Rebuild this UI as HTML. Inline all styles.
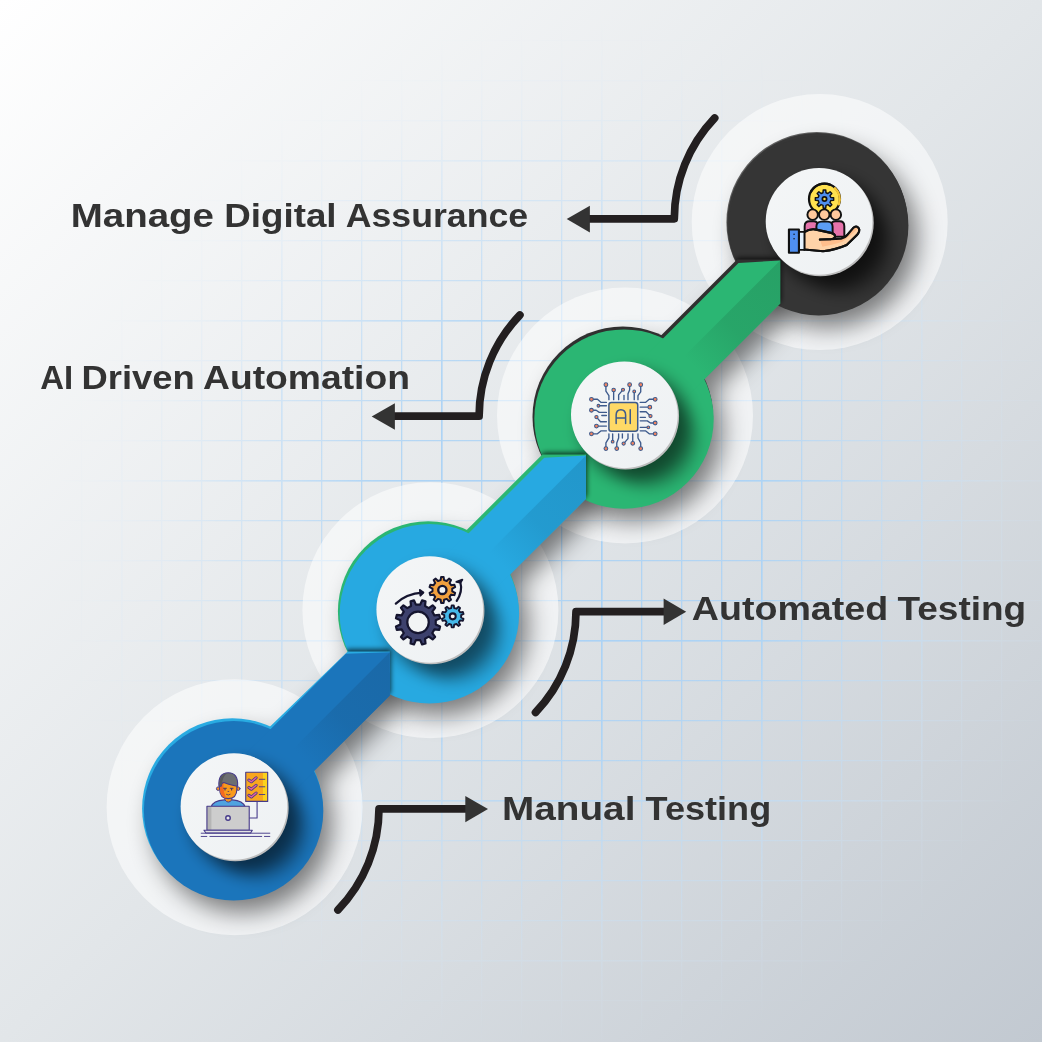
<!DOCTYPE html>
<html><head><meta charset="utf-8"><title>Testing Roadmap</title>
<style>
html,body{margin:0;padding:0;background:#fff;}
body{width:1042px;height:1042px;overflow:hidden;font-family:"Liberation Sans",sans-serif;}
svg{display:block;}
text{font-family:"Liberation Sans",sans-serif;font-weight:bold;fill:#333333;}
</style></head><body>
<svg width="1042" height="1042" viewBox="0 0 1042 1042">
<defs>
<linearGradient id="bg" x1="0" y1="0" x2="1" y2="1">
<stop offset="0" stop-color="#ffffff"/><stop offset="0.5" stop-color="#e2e6e9"/><stop offset="1" stop-color="#c2c9d1"/>
</linearGradient>
<pattern id="gminor" x="1" y="0" width="40" height="40" patternUnits="userSpaceOnUse">
<path d="M0.5 0V40M0 0.5H40" stroke="#fff" stroke-width="1.6" fill="none" opacity="0.88"/>
</pattern>
<pattern id="gmajor" x="121" y="0" width="160" height="160" patternUnits="userSpaceOnUse">
<path d="M0.5 0V160M0 0.5H160" stroke="#fff" stroke-width="2.0" fill="none" opacity="1"/>
</pattern>
<radialGradient id="gfade" cx="575" cy="540" r="525" gradientUnits="userSpaceOnUse">
<stop offset="0" stop-color="#fff" stop-opacity="1"/><stop offset="0.38" stop-color="#fff" stop-opacity="1"/><stop offset="0.66" stop-color="#fff" stop-opacity="0.55"/><stop offset="0.85" stop-color="#fff" stop-opacity="0.16"/><stop offset="0.95" stop-color="#fff" stop-opacity="0.05"/><stop offset="1" stop-color="#fff" stop-opacity="0"/>
</radialGradient>
<mask id="fade"><rect width="1042" height="1042" fill="url(#gfade)"/></mask>
<mask id="gmask"><g mask="url(#fade)"><rect width="1042" height="1042" fill="url(#gminor)"/><rect width="1042" height="1042" fill="url(#gmajor)"/></g></mask>
<radialGradient id="gcol" cx="575" cy="540" r="525" gradientUnits="userSpaceOnUse">
<stop offset="0" stop-color="#a9d1f5"/><stop offset="0.4" stop-color="#aed4f5"/><stop offset="0.7" stop-color="#c4e0f9"/><stop offset="1" stop-color="#e0f0ff"/>
</radialGradient>
<filter id="sh" x="-30%" y="-30%" width="160%" height="160%">
<feGaussianBlur in="SourceAlpha" stdDeviation="12"/>
<feOffset dx="9" dy="12" result="b"/>
<feComponentTransfer><feFuncA type="linear" slope="0.5"/></feComponentTransfer>
</filter>
<filter id="blur6" x="-50%" y="-50%" width="200%" height="200%"><feGaussianBlur stdDeviation="8"/></filter>
<filter id="blur3" x="-50%" y="-50%" width="200%" height="200%"><feGaussianBlur stdDeviation="2.6"/></filter>
<filter id="blur2" x="-50%" y="-50%" width="200%" height="200%"><feGaussianBlur stdDeviation="2"/></filter>
<linearGradient id="long" x1="0" y1="0" x2="1" y2="0">
<stop offset="0" stop-color="#000" stop-opacity="0.6"/><stop offset="0.45" stop-color="#000" stop-opacity="0.45"/><stop offset="1" stop-color="#000" stop-opacity="0"/>
</linearGradient>
<linearGradient id="wfill" x1="0" y1="0" x2="1" y2="1">
<stop offset="0" stop-color="#f4f6f7"/><stop offset="1" stop-color="#eef1f3"/>
</linearGradient>

<clipPath id="rc0"><circle cx="233.6" cy="810.8000000000001" r="89.7"/></clipPath>
<clipPath id="rc1"><circle cx="429.4" cy="613.8000000000001" r="89.7"/></clipPath>
<clipPath id="rc2"><circle cx="624.0" cy="419.1" r="89.7"/></clipPath>
<clipPath id="rc3"><circle cx="818.7" cy="225.7" r="89.7"/></clipPath>
</defs>
<rect width="1042" height="1042" fill="url(#bg)"/>
<rect width="1042" height="1042" fill="url(#gcol)" mask="url(#gmask)"/>
<circle cx="234.6" cy="807.2" r="128.0" fill="#ffffff" fill-opacity="0.55"/>
<circle cx="430.4" cy="610.2" r="128.0" fill="#ffffff" fill-opacity="0.55"/>
<circle cx="625.0" cy="415.5" r="128.0" fill="#ffffff" fill-opacity="0.55"/>
<circle cx="819.7" cy="222.1" r="128.0" fill="#ffffff" fill-opacity="0.55"/>
<g filter="url(#sh)" fill="#000"><circle cx="818.7" cy="225.7" r="89.7"/></g>
<g filter="url(#sh)" fill="#000"><circle cx="624.0" cy="419.1" r="89.7"/><polygon points="625.0,376.6 738.5,263.1 780.2,260.4 780.2,303.6 645.0,438.8 625.0,458.8"/></g>
<g filter="url(#sh)" fill="#000"><circle cx="429.4" cy="613.8000000000001" r="89.7"/><polygon points="430.4,571.5 544.2,457.7 586.0,455.4 586.0,498.8 450.4,634.4 430.4,654.4"/></g>
<g filter="url(#sh)" fill="#000"><circle cx="233.6" cy="810.8000000000001" r="89.7"/><polygon points="234.6,765.1 345.9,653.8 389.8,652.3 389.8,695.4 254.6,830.6 234.6,850.6"/></g>
<circle cx="816.8000000000001" cy="222.39999999999998" r="90.4" fill="#5e5e5e"/>
<circle cx="817.5" cy="223.39999999999998" r="90.3" fill="#363636"/>
<circle cx="818.7" cy="225.7" r="89.7" fill="#353535"/>
<g clip-path="url(#rc3)"><g filter="url(#blur3)"><polygon points="707.2,290.4 737.2,260.4 780.2,260.4 780.2,303.4 750.2,333.4" fill="#000" fill-opacity="0.7" transform="translate(1.0,-3.0)"/></g></g>
<g clip-path="url(#rc3)"><g filter="url(#blur6)"><circle cx="829.7" cy="232.1" r="55.0" fill="#000" fill-opacity="0.55"/><circle cx="843.7" cy="246.1" r="48.0" fill="#000" fill-opacity="0.33"/></g></g>
<circle cx="820.35" cy="222.79999999999998" r="53.4" fill="#bdbdbd"/>
<circle cx="819.0500000000001" cy="221.4" r="53.35" fill="url(#wfill)"/>
<circle cx="622.8" cy="416.8" r="90.3" fill="#303030"/>
<polygon points="645.0,351.4 737.0,259.6 780.2,259.6 780.2,280.4 645.0,395.6" fill="#303030"/>
<circle cx="624.0" cy="419.1" r="89.7" fill="#2bb673"/>
<polygon points="625.0,376.6 738.5,263.1 780.2,260.4 780.2,303.6 645.0,438.8 625.0,458.8" fill="#2bb673"/>
<linearGradient id="lg2" gradientUnits="userSpaceOnUse" x1="780.2" y1="260.4" x2="684.0" y2="356.5999999999999"><stop offset="0" stop-color="#27a166" stop-opacity="1"/><stop offset="0.6" stop-color="#27a166" stop-opacity="0.8"/><stop offset="1" stop-color="#27a166" stop-opacity="0"/></linearGradient>
<polygon points="780.2,260.4 780.2,303.6 645.0,438.8 645.0,395.6" fill="url(#lg2)"/>
<g clip-path="url(#rc2)"><g filter="url(#blur3)"><polygon points="513.0,485.4 543.0,455.4 586.0,455.4 586.0,498.4 556.0,528.4" fill="#000" fill-opacity="0.7" transform="translate(1.0,-3.0)"/></g></g>
<g clip-path="url(#rc2)"><g filter="url(#blur6)"><circle cx="635.0" cy="425.5" r="55.0" fill="#000" fill-opacity="0.45"/><circle cx="649.0" cy="439.5" r="48.0" fill="#000" fill-opacity="0.27"/></g></g>
<circle cx="625.65" cy="416.2" r="53.4" fill="#bdbdbd"/>
<circle cx="624.35" cy="414.8" r="53.35" fill="url(#wfill)"/>
<circle cx="428.2" cy="611.5000000000001" r="90.3" fill="#2bb673"/>
<polygon points="450.4,546.3 542.3,454.6 586.0,454.6 586.0,475.4 450.4,590.9" fill="#2bb673"/>
<circle cx="429.4" cy="613.8000000000001" r="89.7" fill="#27a9e1"/>
<polygon points="430.4,571.5 544.2,457.7 586.0,455.4 586.0,498.8 450.4,634.4 430.4,654.4" fill="#27a9e1"/>
<linearGradient id="lg1" gradientUnits="userSpaceOnUse" x1="585.95" y1="455.4" x2="489.4" y2="551.9499999999999"><stop offset="0" stop-color="#2297cb" stop-opacity="1"/><stop offset="0.6" stop-color="#2297cb" stop-opacity="0.8"/><stop offset="1" stop-color="#2297cb" stop-opacity="0"/></linearGradient>
<polygon points="586.0,455.4 586.0,498.8 450.4,634.4 450.4,590.9" fill="url(#lg1)"/>
<g clip-path="url(#rc1)"><g filter="url(#blur3)"><polygon points="316.8,682.3 346.8,652.3 389.8,652.3 389.8,695.3 359.8,725.3" fill="#000" fill-opacity="0.7" transform="translate(1.0,-3.0)"/></g></g>
<g clip-path="url(#rc1)"><g filter="url(#blur6)"><circle cx="440.4" cy="620.2" r="55.0" fill="#000" fill-opacity="0.42"/><circle cx="454.4" cy="634.2" r="48.0" fill="#000" fill-opacity="0.252"/></g></g>
<circle cx="431.04999999999995" cy="610.9000000000001" r="53.4" fill="#bdbdbd"/>
<circle cx="429.75" cy="609.5" r="53.35" fill="url(#wfill)"/>
<circle cx="232.4" cy="808.5000000000001" r="90.3" fill="#29abe2"/>
<polygon points="254.6,741.5 347.7,651.5 389.8,651.5 389.8,672.3 254.6,787.5" fill="#29abe2"/>
<circle cx="233.6" cy="810.8000000000001" r="89.7" fill="#1b75bb"/>
<polygon points="234.6,765.1 345.9,653.8 389.8,652.3 389.8,695.4 254.6,830.6 234.6,850.6" fill="#1b75bb"/>
<linearGradient id="lg0" gradientUnits="userSpaceOnUse" x1="389.8" y1="652.3" x2="293.6" y2="748.4999999999999"><stop offset="0" stop-color="#1a69a8" stop-opacity="1"/><stop offset="0.6" stop-color="#1a69a8" stop-opacity="0.8"/><stop offset="1" stop-color="#1a69a8" stop-opacity="0"/></linearGradient>
<polygon points="389.8,652.3 389.8,695.4 254.6,830.6 254.6,787.5" fill="url(#lg0)"/>
<g clip-path="url(#rc0)"><g filter="url(#blur6)"><circle cx="244.6" cy="817.2" r="55.0" fill="#000" fill-opacity="0.46"/><circle cx="258.6" cy="831.2" r="48.0" fill="#000" fill-opacity="0.276"/></g></g>
<circle cx="235.25" cy="807.9000000000001" r="53.4" fill="#bdbdbd"/>
<circle cx="233.95" cy="806.5" r="53.35" fill="url(#wfill)"/>
<path d="M337.9,910 A146 146 0 0 0 379,808.8 L468,808.8" fill="none" stroke="#231f20" stroke-width="7.7" stroke-linecap="round" stroke-linejoin="round"/>
<polygon points="465.3,795.9 488,809 465.3,822.2" fill="#333333"/>
<path d="M535.5,712.5 A146 146 0 0 0 576,611.7 L666,611.7" fill="none" stroke="#231f20" stroke-width="7.7" stroke-linecap="round" stroke-linejoin="round"/>
<polygon points="663.6,598.4 686.2,611.7 663.6,624.9" fill="#333333"/>
<path d="M519.9,315 A146 146 0 0 0 479.1,416.2 L392,416.2" fill="none" stroke="#231f20" stroke-width="7.7" stroke-linecap="round" stroke-linejoin="round"/>
<polygon points="394.9,403.2 371.7,416.4 394.9,429.7" fill="#333333"/>
<path d="M714.7,118 A146 146 0 0 0 674.3,218.8 L587,218.8" fill="none" stroke="#231f20" stroke-width="7.7" stroke-linecap="round" stroke-linejoin="round"/>
<polygon points="589.9,205.7 566.7,219 589.9,232.4" fill="#333333"/>
<g opacity="0.995">
<text x="70.7" y="227.3" font-size="34" textLength="143.3" lengthAdjust="spacingAndGlyphs">Manage</text>
<text x="224.3" y="227.3" font-size="34" textLength="112.3" lengthAdjust="spacingAndGlyphs">Digital</text>
<text x="345.8" y="227.3" font-size="34" textLength="182.3" lengthAdjust="spacingAndGlyphs">Assurance</text>
<text x="40.3" y="389.0" font-size="34" textLength="32.9" lengthAdjust="spacingAndGlyphs">AI</text>
<text x="81.5" y="389.0" font-size="34" textLength="113.2" lengthAdjust="spacingAndGlyphs">Driven</text>
<text x="203.0" y="389.0" font-size="34" textLength="207.0" lengthAdjust="spacingAndGlyphs">Automation</text>
<text x="691.8" y="619.7" font-size="34" textLength="196.4" lengthAdjust="spacingAndGlyphs">Automated</text>
<text x="897.4" y="619.7" font-size="34" textLength="128.8" lengthAdjust="spacingAndGlyphs">Testing</text>
<text x="502.1" y="819.8" font-size="34" textLength="133.3" lengthAdjust="spacingAndGlyphs">Manual</text>
<text x="645.6" y="819.8" font-size="34" textLength="125.6" lengthAdjust="spacingAndGlyphs">Testing</text>
</g>
<g transform="translate(170,745) scale(0.12476)" stroke-linejoin="round" stroke-linecap="round">
<path d="M698,452V585H638" fill="none" stroke="#463a8a" stroke-width="8.8"/>
<rect x="607" y="218" width="176" height="234" fill="#f9a61f" stroke="none"/>
<rect x="745" y="218" width="38" height="234" fill="#fcd21c"/>
<rect x="607" y="218" width="176" height="234" fill="none" stroke="#463a8a" stroke-width="8.8"/>
<path d="M632,281 L652,295 L690,263" fill="none" stroke="#463a8a" stroke-width="23.8"/>
<path d="M632,281 L652,295 L690,263" fill="none" stroke="#e8609f" stroke-width="11.2"/>
<path d="M716,275H760" fill="none" stroke="#463a8a" stroke-width="7.5"/>
<path d="M632,341 L652,355 L690,323" fill="none" stroke="#463a8a" stroke-width="23.8"/>
<path d="M632,341 L652,355 L690,323" fill="none" stroke="#e8609f" stroke-width="11.2"/>
<path d="M716,335H760" fill="none" stroke="#463a8a" stroke-width="7.5"/>
<path d="M632,403 L652,417 L690,385" fill="none" stroke="#463a8a" stroke-width="23.8"/>
<path d="M632,403 L652,417 L690,385" fill="none" stroke="#e8609f" stroke-width="11.2"/>
<path d="M716,397H760" fill="none" stroke="#463a8a" stroke-width="7.5"/>
<path d="M330,495 Q345,448 435,440 L500,440 Q585,448 602,495 Z" fill="#4fa3e0" stroke="#463a8a" stroke-width="8.8"/>
<path d="M440,415 L440,440 Q467,475 495,440 L495,415 Z" fill="#f7941d" stroke="#463a8a" stroke-width="7.5"/>
<circle cx="386" cy="350" r="14" fill="#f7941d" stroke="#463a8a" stroke-width="7.5"/>
<circle cx="547" cy="350" r="14" fill="#f7941d" stroke="#463a8a" stroke-width="7.5"/>
<path d="M398,290 L398,355 Q398,428 467,430 Q536,428 536,355 L536,290 Z" fill="#f99b1c" stroke="#463a8a" stroke-width="8.8"/>
<path d="M401,290 L401,355 Q401,420 455,427 Q425,390 428,290 Z" fill="#f26a21"/>
<path d="M392,330 Q385,222 467,222 Q548,222 542,330 Q500,325 432,300 Q415,300 410,330 Z" fill="#6d6e71" stroke="#463a8a" stroke-width="8.8"/>
<path d="M397,325 Q392,232 460,227 Q420,250 415,325 Z" fill="#58595b"/>
<path d="M430,347H452M483,347H505" stroke="#3a2f6b" stroke-width="7.5" fill="none"/>
<path d="M441,352v8M494,352v8" stroke="#3a2f6b" stroke-width="8.8" fill="none"/>
<path d="M465,372h6" stroke="#3a2f6b" stroke-width="6.2" fill="none"/>
<path d="M452,396 Q467,408 482,396" stroke="#3a2f6b" stroke-width="6.2" fill="none"/>
<rect x="296" y="491" width="339" height="192" fill="#cdcdcd" stroke="none"/>
<rect x="296" y="491" width="36" height="192" fill="#b5b5b5"/>
<rect x="296" y="491" width="339" height="192" fill="none" stroke="#463a8a" stroke-width="8.8"/>
<circle cx="465" cy="585" r="18" fill="#e6e6e6" stroke="#463a8a" stroke-width="11.2"/>
<path d="M272,683 H660 L646,705 H288 Z" fill="#e3e3e3" stroke="#463a8a" stroke-width="8.8"/>
<path d="M250,707H800" stroke="#463a8a" stroke-width="7.5" fill="none"/>
<path d="M250,733H295M320,733H735M757,733H800" stroke="#463a8a" stroke-width="7.5" fill="none"/>
</g>
<g transform="translate(370,550) scale(0.12476)" stroke-linejoin="round" stroke-linecap="round">
<path d="M527.0,597.2 L562.0,612.8 L554.7,640.1 L516.5,636.1 L499.4,665.9 L521.9,696.9 L501.9,716.9 L470.9,694.4 L441.1,711.5 L445.1,749.7 L417.8,757.0 L402.2,722.0 L367.8,722.0 L352.2,757.0 L324.9,749.7 L328.9,711.5 L299.1,694.4 L268.1,716.9 L248.1,696.9 L270.6,665.9 L253.5,636.1 L215.3,640.1 L208.0,612.8 L243.0,597.2 L243.0,562.8 L208.0,547.2 L215.3,519.9 L253.5,523.9 L270.6,494.1 L248.1,463.1 L268.1,443.1 L299.1,465.6 L328.9,448.5 L324.9,410.3 L352.2,403.0 L367.8,438.0 L402.2,438.0 L417.8,403.0 L445.1,410.3 L441.1,448.5 L470.9,465.6 L501.9,443.1 L521.9,463.1 L499.4,494.1 L516.5,523.9 L554.7,519.9 L562.0,547.2 L527.0,562.8Z" fill="#3d416d" stroke="#15152f" stroke-width="17.6"/>
<circle cx="385" cy="580" r="86" fill="#f2f4f5" stroke="#15152f" stroke-width="17.6"/>
<path d="M594.0,398.8 L589.9,424.5 L570.1,424.5 L566.0,398.8 L545.0,392.0 L526.6,410.4 L510.6,398.8 L522.4,375.5 L509.4,357.7 L483.6,361.7 L477.5,342.9 L500.8,331.0 L500.8,309.0 L477.5,297.1 L483.6,278.3 L509.4,282.3 L522.4,264.5 L510.6,241.2 L526.6,229.6 L545.0,248.0 L566.0,241.2 L570.1,215.5 L589.9,215.5 L594.0,241.2 L615.0,248.0 L633.4,229.6 L649.4,241.2 L637.6,264.5 L650.6,282.3 L676.4,278.3 L682.5,297.1 L659.2,309.0 L659.2,331.0 L682.5,342.9 L676.4,361.7 L650.6,357.7 L637.6,375.5 L649.4,398.8 L633.4,410.4 L615.0,392.0Z" fill="#f2a03d" stroke="#15152f" stroke-width="16.2"/>
<circle cx="580" cy="320" r="33" fill="#f2f4f5" stroke="#15152f" stroke-width="18.9"/>
<path d="M674.9,599.0 L671.4,620.6 L654.6,620.6 L651.1,599.0 L633.3,593.2 L617.7,608.6 L604.1,598.8 L614.0,579.2 L603.0,564.0 L581.3,567.3 L576.1,551.4 L595.6,541.4 L595.6,522.6 L576.1,512.6 L581.3,496.7 L603.0,500.0 L614.0,484.8 L604.1,465.2 L617.7,455.4 L633.3,470.8 L651.1,465.0 L654.6,443.4 L671.4,443.4 L674.9,465.0 L692.7,470.8 L708.3,455.4 L721.9,465.2 L712.0,484.8 L723.0,500.0 L744.7,496.7 L749.9,512.6 L730.4,522.6 L730.4,541.4 L749.9,551.4 L744.7,567.3 L723.0,564.0 L712.0,579.2 L721.9,598.8 L708.3,608.6 L692.7,593.2Z" fill="#45b9ea" stroke="#15152f" stroke-width="14.9"/>
<circle cx="663" cy="532" r="24" fill="#f2f4f5" stroke="#15152f" stroke-width="16.2"/>
<path d="M207,430 Q290,350 422,342" fill="none" stroke="#15152f" stroke-width="17.6"/>
<path d="M400,320 L428,341 L404,366 Z" fill="#15152f" stroke="#15152f" stroke-width="15"/>
<path d="M695,408 Q745,330 724,258" fill="none" stroke="#15152f" stroke-width="17.6"/>
<path d="M692,256 L740,238 L724,262 Z" fill="#15152f" stroke="#15152f" stroke-width="15"/>
</g>
<g transform="translate(560,350) scale(0.12476)" stroke-linejoin="round" stroke-linecap="round" fill="none" stroke="#3d5a8c" stroke-width="10.8">
<path d="M368,278V330L392,365V398"/>
<path d="M430,320V398"/>
<path d="M505,318L470,360V398"/>
<path d="M513,365V398"/>
<path d="M558,278V320L545,350V398"/>
<path d="M595,332V398"/>
<path d="M647,278V335L625,365V398"/>
<path d="M368,790V745L392,705V672"/>
<path d="M422,735V672"/>
<path d="M455,790V745L470,705V672"/>
<path d="M500,672V705"/>
<path d="M510,750L545,710V672"/>
<path d="M583,748V672"/>
<path d="M647,790V745L625,705V672"/>
<path d="M252,395H300L330,420H372"/>
<path d="M308,447H372"/>
<path d="M252,483H290L315,500H372"/>
<path d="M335,525H372"/>
<path d="M292,538L325,575H372"/>
<path d="M292,610H372"/>
<path d="M252,672H300L330,648H372"/>
<path d="M763,395H715L685,420H643"/>
<path d="M720,458H643"/>
<path d="M725,530L690,495H643"/>
<path d="M643,540H685"/>
<path d="M763,585H725L700,568H643"/>
<path d="M708,620H643"/>
<path d="M763,672H715L685,648H643"/>
<circle cx="368" cy="278" r="15" fill="#f4845f" stroke-width="8.4"/>
<circle cx="430" cy="320" r="14" fill="#f4845f" stroke-width="8.4"/>
<circle cx="505" cy="318" r="12" fill="#f4845f" stroke-width="8.4"/>
<circle cx="558" cy="278" r="15" fill="#f4845f" stroke-width="8.4"/>
<circle cx="595" cy="332" r="11" fill="#f4845f" stroke-width="8.4"/>
<circle cx="647" cy="278" r="15" fill="#f4845f" stroke-width="8.4"/>
<circle cx="368" cy="790" r="15" fill="#f4845f" stroke-width="8.4"/>
<circle cx="422" cy="735" r="11" fill="#f4845f" stroke-width="8.4"/>
<circle cx="455" cy="790" r="15" fill="#f4845f" stroke-width="8.4"/>
<circle cx="510" cy="750" r="13" fill="#f4845f" stroke-width="8.4"/>
<circle cx="583" cy="748" r="15" fill="#f4845f" stroke-width="8.4"/>
<circle cx="647" cy="790" r="15" fill="#f4845f" stroke-width="8.4"/>
<circle cx="252" cy="395" r="15" fill="#f4845f" stroke-width="8.4"/>
<circle cx="308" cy="447" r="11" fill="#f4845f" stroke-width="8.4"/>
<circle cx="252" cy="483" r="15" fill="#f4845f" stroke-width="8.4"/>
<circle cx="292" cy="538" r="13" fill="#f4845f" stroke-width="8.4"/>
<circle cx="292" cy="610" r="15" fill="#f4845f" stroke-width="8.4"/>
<circle cx="252" cy="672" r="15" fill="#f4845f" stroke-width="8.4"/>
<circle cx="763" cy="395" r="15" fill="#f4845f" stroke-width="8.4"/>
<circle cx="720" cy="458" r="15" fill="#f4845f" stroke-width="8.4"/>
<circle cx="725" cy="530" r="13" fill="#f4845f" stroke-width="8.4"/>
<circle cx="763" cy="585" r="15" fill="#f4845f" stroke-width="8.4"/>
<circle cx="708" cy="620" r="11" fill="#f4845f" stroke-width="8.4"/>
<circle cx="763" cy="672" r="15" fill="#f4845f" stroke-width="8.4"/>
<rect x="392" y="420" width="231" height="232" rx="20" fill="#ffd966" stroke-width="12.0"/>
<path d="M450,590V522Q450,478 488,478Q526,478 526,522V590M450,546H526M563,478V590" stroke-width="12.0"/>
</g>
<g transform="translate(755,157) scale(0.12476)" stroke-linejoin="round" stroke-linecap="round" stroke="#111111">
<circle cx="557" cy="337" r="124" fill="#ffe14f" stroke-width="18.2"/>
<path d="M640,250 A124 124 0 0 1 672,380" fill="none" stroke="#f6c634" stroke-width="18.2"/>
<path d="M450,275 A124 124 0 0 1 600,221" fill="none" stroke-width="18.2"/>
<path d="M569.1,387.6 L566.9,410.3 L547.1,410.3 L544.9,387.6 L529.8,381.3 L512.1,395.8 L498.2,381.9 L512.7,364.2 L506.4,349.1 L483.7,346.9 L483.7,327.1 L506.4,324.9 L512.7,309.8 L498.2,292.1 L512.1,278.2 L529.8,292.7 L544.9,286.4 L547.1,263.7 L566.9,263.7 L569.1,286.4 L584.2,292.7 L601.9,278.2 L615.8,292.1 L601.3,309.8 L607.6,324.9 L630.3,327.1 L630.3,346.9 L607.6,349.1 L601.3,364.2 L615.8,381.9 L601.9,395.8 L584.2,381.3Z" fill="#4f8ff0" stroke-width="11.7"/>
<circle cx="557" cy="337" r="17" fill="#ffe14f" stroke-width="14.3"/>
<path d="M398,640V555Q398,515 438,515H470Q505,515 505,555V640Z" fill="#e673ab" stroke-width="15.6"/>
<path d="M608,640V555Q608,515 645,515H678Q716,515 716,555V640Z" fill="#e673ab" stroke-width="15.6"/>
<path d="M492,640V560Q492,518 532,518H582Q622,518 622,560V640Z" fill="#5b9df5" stroke-width="15.6"/>
<circle cx="462" cy="462" r="42" fill="#ffc99c" stroke-width="15.6"/>
<circle cx="648" cy="462" r="42" fill="#ffc99c" stroke-width="15.6"/>
<circle cx="555" cy="462" r="42" fill="#ffc99c" stroke-width="15.6"/>
<path d="M395,603 Q440,572 490,582 L600,606 Q645,615 642,640 Q636,662 600,660 L520,662 L690,655 Q720,650 740,625 L785,572 Q812,545 832,572 Q845,595 815,628 L735,705 Q650,742 545,756 L395,742 Z" fill="#ffd3a8" stroke-width="16.9"/>
<path d="M520,662 L690,655 Q720,650 740,625 L785,572 Q812,545 828,570 Q760,640 700,680 Q640,700 540,720 Z" fill="#ffbe8c" stroke="none"/>
<path d="M395,603 Q440,572 490,582 L600,606 Q645,615 642,640 Q636,662 600,660 L520,662 L690,655 Q720,650 740,625 L785,572 Q812,545 832,572 Q845,595 815,628 L735,705 Q650,742 545,756 L395,742" fill="none" stroke-width="16.9"/>
<rect x="352" y="600" width="44" height="145" fill="#e6f3ff" stroke-width="14.3"/>
<rect x="272" y="581" width="80" height="187" fill="#4f8ff0" stroke-width="16.9"/>
<circle cx="313" cy="620" r="6" fill="#111111" stroke="none"/><circle cx="313" cy="656" r="6" fill="#111111" stroke="none"/>
</g>
</svg></body></html>
